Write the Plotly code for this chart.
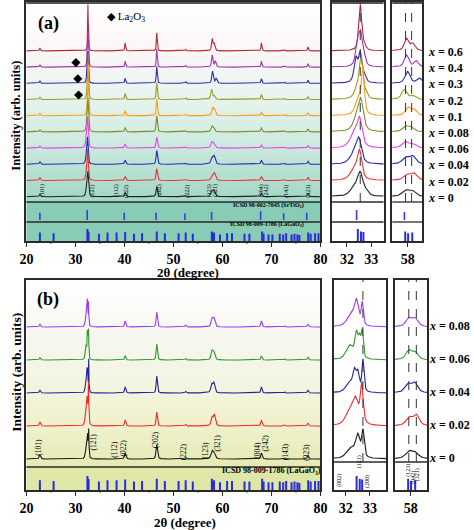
import numpy as np
import plotly.graph_objects as go

# ------------------------------------------------------------------ data
LABELS_A = ["0.6", "0.4", "0.3", "0.2", "0.1", "0.08", "0.06", "0.04", "0.02", "0"]
COLORS_A = ["#b02a38", "#a531ae", "#2d2db0", "#9a9a26", "#ff9a1a",
            "#7d8c2c", "#e845e8", "#2626b8", "#f03030", "#222222"]
LABELS_B = ["0.08", "0.06", "0.04", "0.02", "0"]
COLORS_B = ["#9b3cf0", "#2a9a2a", "#22229a", "#f02a2a", "#1a1a1a"]

# single reflections (2theta) and their heights for each sample
REFL_POS = [22.75, 40.15, 46.6, 52.5, 67.95, 72.7, 77.45]
REFL_H_A = [[3.0, 8, 18, 1.5, 8, 1.0, 4.0],
            [2.5, 6, 18, 1.5, 6, 1.0, 3.5],
            [2.5, 5, 17, 1.5, 4.5, 1.0, 3.0],
            [2.5, 6, 17, 1.5, 5, 1.0, 3.0],
            [2.5, 5, 17, 1.5, 4, 1.0, 3.0],
            [2.0, 4, 16, 1.0, 4, 0.8, 3.0],
            [2.0, 4, 11, 1.0, 3, 0.8, 2.5],
            [2.5, 4, 14, 1.0, 4, 0.8, 3.0],
            [3.0, 4, 12, 1.0, 4, 0.8, 3.0],
            [2.5, 4, 10, 1.0, 3, 0.8, 3.0]]
REFL_H_B = [[3.0, 6, 15, 2.0, 6, 1.0, 3.0],
            [2.5, 4, 16, 1.5, 4, 1.0, 3.0],
            [3.0, 6, 17, 1.5, 6, 1.0, 3.0],
            [4.0, 6, 14, 1.5, 6, 1.0, 3.0],
            [4.0, 6, 14, 1.5, 6, 1.0, 3.0]]
FWHM_A = [0.22, 0.22, 0.24, 0.26, 0.26, 0.3, 0.32, 0.32, 0.32, 0.34]
FWHM_B = [0.3, 0.3, 0.3, 0.3, 0.35]

# (121)/(002)/(200) cluster near 32.5 deg
C121_POS_A = [[32.55, 32.72], [32.44, 32.57, 32.7], [32.37, 32.55, 32.72],
              [32.45, 32.59, 32.78], [32.48, 32.66], [32.4, 32.57],
              [32.28, 32.52], [32.3, 32.49], [32.3, 32.52], [32.3, 32.55, 32.8]]
C121_H_A = [[46, 4], [24, 28, 9], [24, 28, 7], [12, 38, 5], [18, 44], [12, 28],
            [12, 27], [10, 22], [10, 27], [8, 22, 3]]
C121_W_A = [[0.15, 0.15], [0.18, 0.16, 0.16], [0.18, 0.16, 0.16], [0.3, 0.16, 0.15],
            [0.3, 0.13], [0.35, 0.25], [0.4, 0.25], [0.4, 0.25], [0.4, 0.22],
            [0.4, 0.28, 0.2]]
C121_POS_B = [[32.2, 32.44, 32.68], [32.16, 32.44, 32.57, 32.68],
              [32.16, 32.36, 32.5, 32.71], [32.15, 32.4, 32.66], [32.2, 32.5, 32.71]]
C121_H_B = [[10, 24, 22], [14, 24, 18, 26], [10, 18, 18, 32], [12, 24, 38], [10, 22, 26]]
C121_W_B = [[0.4, 0.22, 0.1], [0.35, 0.15, 0.12, 0.1], [0.35, 0.15, 0.15, 0.1],
            [0.4, 0.3, 0.14], [0.4, 0.22, 0.12]]

# (123)/(042)/(321) doublet near 58 deg
D58_POS_A = [[57.92, 58.32], [57.92, 58.53], [57.98, 58.73], [57.78, 58.32], [58.0, 58.4],
             [57.85, 58.2], [57.84, 58.3], [57.84, 58.3], [57.92, 58.38], [57.84, 58.26]]
D58_H_A = [[12, 7], [12, 6], [12, 5], [10, 3.5], [8, 6], [5, 4], [6, 4], [6, 8], [5, 7], [5.5, 5.5]]
D58_POS_B = [[57.88, 58.28], [57.88, 58.28], [57.8, 58.24], [57.88, 58.34], [57.88, 58.28]]
D58_H_B = [[8, 8], [9, 7], [8, 10], [8, 11], [7, 5.5]]

# reference patterns (relative intensities)
SRTIO3_POS = [22.75, 32.40, 39.96, 46.47, 52.35, 57.79, 67.80, 72.5, 77.2]
SRTIO3_I = [0.45, 0.62, 0.45, 0.45, 0.42, 0.5, 0.55, 0.42, 0.45]
LAGAO3_POS = [22.75, 25.55, 32.45, 32.58, 32.68, 34.8, 36.55, 38.4, 40.15, 41.95,
              43.6, 46.6, 48.25, 51.05, 52.5, 53.95, 57.84, 58.02, 58.28, 59.5,
              60.95, 61.95, 64.5, 65.5, 68.1, 68.4, 69.4, 70.2, 71.7, 72.4,
              73.0, 74.1, 74.7, 75.3, 75.7, 77.5, 78.0, 78.9, 79.6]
LAGAO3_I = [0.7, 0.65, 1.0, 0.8, 0.75, 0.6, 0.7, 0.7, 0.75, 0.6,
            0.65, 0.8, 0.65, 0.65, 0.7, 0.6, 0.8, 0.65, 0.7, 0.55,
            0.65, 0.65, 0.6, 0.6, 0.8, 0.6, 0.55, 0.55, 0.6, 0.55,
            0.65, 0.55, 0.6, 0.55, 0.5, 0.7, 0.6, 0.65, 0.65]

# La2O3 impurity reflections
LA2O3_SAMPLES = ["0.4", "0.3", "0.2"]
LA2O3_POS = [30.1, 30.5, 30.65]

HKL = ["(101)", "(121)", "(112)", "(022)", "(202)", "(222)", "(123)", "(321)",
       "(004)", "(242)", "(143)", "(323)"]
HKL_X_A = [23.2, 33.3, 38.3, 40.3, 47.1, 52.7, 57.3, 58.5, 67.9, 68.8, 72.9, 77.4]
HKL_X_B = [22.3, 33.5, 37.8, 39.8, 46.3, 52.0, 56.4, 58.8, 67.0, 68.6, 72.8, 77.0]
HKL_Y_B = [43, 48, 40, 42, 50, 38, 40, 47, 40, 47, 38, 38]
INSET1_HKL_B = ["(002)", "(121)", "(200)"]
INSET1_HKL_X_B = [31.71, 32.56, 32.88]
INSET1_HKL_Y_B = [10, 28, 8]
INSET2_HKL_B = ["(123)", "(042)", "(321)"]
INSET2_HKL_X_B = [57.82, 58.12, 58.41]
INSET2_HKL_Y_B = [20, 13, 15]

# ------------------------------------------------------------------ layout helpers
W, H = 474, 530
SERIF = "Liberation Serif"


def pv(x, c, w, eta=0.6):
    d = (x - c) / (w / 2.0)
    return eta / (1 + d * d) + (1 - eta) * np.exp(-np.log(2) * d * d)


def pattern(x, refl_h, fwhm, cpos, ch, cw, dpos, dh):
    y = np.zeros_like(x)
    for p, h in zip(REFL_POS, refl_h):
        y += h * pv(x, p, fwhm)
    for p, h, w in zip(cpos, ch, cw):
        y += h * pv(x, p, w)
    for p, h in zip(dpos, dh):
        y += h * pv(x, p, fwhm * 1.5)
    return y


def xd(l, r):
    return [l / W, r / W]


def yd(top, bot):
    return [1 - bot / H, 1 - top / H]


AXES = [
    ("", (20, 323), (2, 241), (20, 80), (0, 239), list(range(20, 81, 10))),
    ("2", (335, 388), (2, 241), (31.39, 33.51), (0, 239), [32, 33]),
    ("3", (397, 428), (2, 241), (57.03, 58.91), (0, 239), [58]),
    ("4", (20, 323), (280, 490), (20, 80), (0, 210), list(range(20, 81, 10))),
    ("5", (337, 391), (280, 490), (31.52, 33.68), (0, 210), [32, 33]),
    ("6", (400, 433), (280, 490), (57.03, 59.03), (0, 210), [58]),
]

fig = go.Figure()
layout = dict(width=W, height=H, autosize=False, margin=dict(l=0, r=0, t=0, b=0),
              paper_bgcolor="white", plot_bgcolor="white", showlegend=False)
tickfont = dict(family=SERIF, size=14, color="black", weight="bold")
for suf, xdom, ydom, xr, yr, tv in AXES:
    xa = dict(domain=xd(*xdom), range=list(xr), anchor="y" + suf, showline=True, mirror=True,
              linecolor="#2a2a2a", linewidth=1.5, ticks="outside", ticklen=4, tickwidth=1.2,
              tickcolor="#2a2a2a", tickmode="array", tickvals=tv,
              ticktext=[str(v) for v in tv], tickfont=tickfont, showgrid=False,
              zeroline=False, fixedrange=True)
    ya = dict(domain=yd(*ydom), range=list(yr), anchor="x" + suf, showline=True, mirror=True,
              linecolor="#2a2a2a", linewidth=1.5, showticklabels=False, ticks="",
              showgrid=False, zeroline=False, fixedrange=True)
    layout["xaxis" + suf] = xa
    layout["yaxis" + suf] = ya

shapes = []


def lerp_color(stops, v):
    for (v0, c0), (v1, c1) in zip(stops[:-1], stops[1:]):
        if v0 <= v <= v1 or v0 >= v >= v1:
            t = 0 if v1 == v0 else (v - v0) / (v1 - v0)
            c = [round(a + (b - a) * t) for a, b in zip(c0, c1)]
            return "rgb(%d,%d,%d)" % tuple(c)
    return "rgb(%d,%d,%d)" % tuple(stops[-1][1])


def gradient(suf, stops, y0, y1, n):
    for k in range(n):
        a = y0 + (y1 - y0) * k / n
        b = y0 + (y1 - y0) * (k + 1) / n
        shapes.append(dict(type="rect", xref=f"x{suf} domain", yref=f"y{suf}", x0=0, x1=1,
                           y0=a, y1=b + 0.4, fillcolor=lerp_color(stops, (a + b) / 2),
                           line=dict(width=0), layer="below"))


STOPS_A = [(239, (255, 255, 255)), (195, (252, 247, 248)), (150, (234, 245, 239)),
           (100, (206, 235, 223)), (39, (160, 214, 196))]
gradient("", STOPS_A, 39, 239, 60)
shapes.append(dict(type="rect", xref="x domain", yref="y", x0=0, x1=1, y0=0, y1=39,
                   fillcolor="rgb(136,204,182)", line=dict(width=0), layer="below"))
STOPS_B = [(210, (255, 255, 255)), (150, (246, 246, 240)), (100, (243, 244, 222)),
           (60, (238, 240, 202)), (23, (229, 235, 178))]
gradient("4", STOPS_B, 23, 210, 50)
shapes.append(dict(type="rect", xref="x4 domain", yref="y4", x0=0, x1=1, y0=0, y1=23,
                   fillcolor="rgb(222,231,168)", line=dict(width=0), layer="below"))

# minor ticks on the main 2theta axes (every 5 degrees, between labelled ticks)
for suf, ybase in (("", 0), ("4", 0)):
    for v in range(25, 80, 10):
        shapes.append(dict(type="line", xref=f"x{suf}", yref=f"y{suf} domain", x0=v, x1=v,
                           y0=0, y1=-0.012, line=dict(color="#2a2a2a", width=1.2)))

# separators
for suf in ["", "2", "3"]:
    for yy in (39, 19):
        shapes.append(dict(type="line", xref=f"x{suf} domain", yref=f"y{suf}", x0=0, x1=1,
                           y0=yy, y1=yy, line=dict(color="#2a2a2a", width=1.3)))
    shapes.append(dict(type="line", xref=f"x{suf} domain", yref=f"y{suf}", x0=0, x1=1,
                       y0=239, y1=239, line=dict(color="#555555", width=4)))
shapes.append(dict(type="line", xref="x4 domain", yref="y4", x0=0, x1=1, y0=23, y1=23,
                   line=dict(color="#2a2a2a", width=1.3)))
for suf in ["5", "6"]:
    shapes.append(dict(type="line", xref=f"x{suf} domain", yref=f"y{suf}", x0=0, x1=1,
                       y0=28, y1=28, line=dict(color="#2a2a2a", width=1.3)))

# dashed guide lines
for suf, xs, ylo, yhi in [("2", [32.55], 39, 239), ("3", [57.86, 58.24], 39, 239),
                          ("5", [32.71], 28, 210), ("6", [57.88, 58.35], 28, 210)]:
    for xv in xs:
        shapes.append(dict(type="line", xref=f"x{suf}", yref=f"y{suf}", x0=xv, x1=xv,
                           y0=ylo, y1=yhi, line=dict(color="#333333", width=1, dash="dash")))


def add_line(x, y, suf, color, width=1.1):
    fig.add_trace(go.Scatter(x=x, y=y, mode="lines", line=dict(color=color, width=width),
                             xaxis="x" + (suf or ""), yaxis="y" + (suf or ""),
                             hoverinfo="skip", showlegend=False))


def sticks(pos, inten, base, scale, suf, color, width):
    xs, ys = [], []
    for p, i in zip(pos, inten):
        xs += [p, p, None]
        ys += [base, base + i * scale, None]
    add_line(xs, ys, suf, color, width)


XM = np.arange(20, 80.0001, 0.01)
X1 = np.arange(31.2, 33.9, 0.004)
X2 = np.arange(56.9, 59.2, 0.004)

OFF_A = [44.3 + 16.2 * (9 - i) for i in range(10)]
OFF_B = [31 + 33 * (4 - i) for i in range(5)]

for i in range(10):
    args = (REFL_H_A[i], FWHM_A[i], C121_POS_A[i], C121_H_A[i], C121_W_A[i],
            D58_POS_A[i], D58_H_A[i])
    for suf, xg in (("", XM), ("2", X1), ("3", X2)):
        add_line(xg, OFF_A[i] + pattern(xg, *args), suf, COLORS_A[i], 1.1)

for i in range(5):
    args = (REFL_H_B[i], FWHM_B[i], C121_POS_B[i], C121_H_B[i], C121_W_B[i],
            D58_POS_B[i], D58_H_B[i])
    for suf, xg in (("4", XM), ("5", X1), ("6", X2)):
        add_line(xg, OFF_B[i] + pattern(xg, *args), suf, COLORS_B[i], 1.1)

# reference sticks
for suf in ["", "2", "3"]:
    sticks(SRTIO3_POS, SRTIO3_I, 21, 16, suf, "#3a3ae6", 1.6)
    sticks(LAGAO3_POS, LAGAO3_I, 0, 12, suf, "#2b2bdc", 2)
for suf in ["4", "5", "6"]:
    sticks(LAGAO3_POS, LAGAO3_I, 0, 14, suf, "#2b2bdc", 2)

# La2O3 markers
fig.add_trace(go.Scatter(
    x=LA2O3_POS, y=[OFF_A[LABELS_A.index(s)] + 4.5 for s in LA2O3_SAMPLES],
    mode="markers", marker=dict(symbol="diamond", size=7, color="black"),
    xaxis="x", yaxis="y", hoverinfo="skip", showlegend=False))

# ------------------------------------------------------------------ annotations
ann = []


def note(text, x, y, xref="paper", yref="paper", size=12, bold=True, angle=0,
         xanchor="center", yanchor="middle"):
    ann.append(dict(text=text, x=x, y=y, xref=xref, yref=yref, showarrow=False,
                    textangle=angle, xanchor=xanchor, yanchor=yanchor,
                    font=dict(family=SERIF, size=size, color="black",
                              weight="bold" if bold else "normal")))


for i, lab in enumerate(LABELS_A):
    note(f"<i>x</i> = {lab}", 432 / W, OFF_A[i] - 1, yref="y", size=12, xanchor="left")
for i, lab in enumerate(LABELS_B):
    note(f"<i>x</i> = {lab}", 433 / W, OFF_B[i] + 1, yref="y4", size=12, xanchor="left")

for t, xv in zip(HKL, HKL_X_A):
    note(t, xv, 50, xref="x", yref="y", size=6, bold=False, angle=-90)
for t, xv, yv in zip(HKL, HKL_X_B, HKL_Y_B):
    note(t, xv, yv, xref="x4", yref="y4", size=7.5, bold=False, angle=-90)
for t, xv, yv in zip(INSET1_HKL_B, INSET1_HKL_X_B, INSET1_HKL_Y_B):
    note(t, xv, yv, xref="x5", yref="y5", size=6, bold=False, angle=-90)
for t, xv, yv in zip(INSET2_HKL_B, INSET2_HKL_X_B, INSET2_HKL_Y_B):
    note(t, xv, yv, xref="x6", yref="y6", size=6, bold=False, angle=-90)

note("ICSD 98-002-7045 (SrTiO<sub>3</sub>)", 308 / W, 35.5, yref="y", size=6, xanchor="right")
note("ICSD 98-009-1786 (LaGaO<sub>3</sub>)", 308 / W, 16.5, yref="y", size=6, xanchor="right")
note("ICSD 98-009-1786 (LaGaO<sub>3</sub>)", 326 / W, 19, yref="y4", size=8, xanchor="right")

note("(a)", 43 / W, 1 - 24 / H, size=18)
note("(b)", 42 / W, 1 - 299 / H, size=18)
note("◆ La<sub>2</sub>O<sub>3</sub>", 101 / W, 1 - 17 / H, size=11, bold=False, xanchor="left")

note("Intensity (arb. units)", 9 / W, 1 - 116 / H, size=12.5, angle=-90)
note("Intensity (arb. units)", 9 / W, 1 - 372 / H, size=13.5, angle=-90)
note("2θ (degree)", 186 / W, 1 - 272 / H, size=13)
note("2θ (degree)", 183 / W, 1 - 522 / H, size=13)

layout["shapes"] = shapes
layout["annotations"] = ann
fig.update_layout(**layout)
fig.write_html("out.html")
